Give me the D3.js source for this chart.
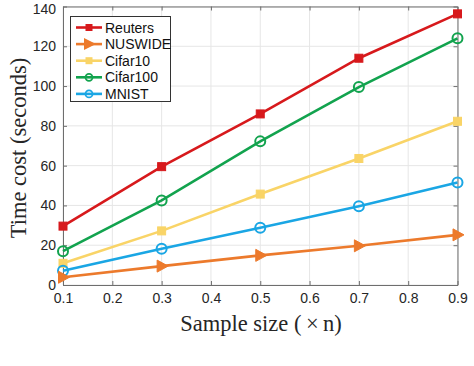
<!DOCTYPE html>
<html><head><meta charset="utf-8">
<script src="https://cdn.jsdelivr.net/npm/d3@7"></script>
<style>body{margin:0;background:#fff}svg{display:block}</style>
</head><body>
<svg id="c" width="474" height="366"></svg>
<script>
const xs = [0.1, 0.3, 0.5, 0.7, 0.9];
const reuters = [29.6, 59.5, 86, 114, 136.3];
const nuswide = [3.9, 9.5, 14.9, 19.7, 25.2];
const cifar10 = [10.9, 27.2, 45.7, 63.6, 82.3];
const cifar100 = [17, 42.5, 72.2, 99.5, 124];
const mnist = [7.2, 18.2, 28.8, 39.6, 51.5];
const xTicks = [0.1,0.2,0.3,0.4,0.5,0.6,0.7,0.8,0.9];
const yTicks = [0,20,40,60,80,100,120,140];

const series = [
  {name:"Reuters", v:reuters, color:"#d7191c", marker:"square"},
  {name:"NUSWIDE", v:nuswide, color:"#ec7a2c", marker:"tri"},
  {name:"Cifar10", v:cifar10, color:"#f9d467", marker:"square"},
  {name:"Cifar100", v:cifar100, color:"#12a34e", marker:"circle"},
  {name:"MNIST", v:mnist, color:"#1aa6e4", marker:"circle"}
];

const L=63, R=457.5, T=6.5, B=285;
const svg = d3.select("#c");
const x = d3.scaleLinear().domain([0.1,0.9]).range([L,R]);
const y = d3.scaleLinear().domain([0,140]).range([B,T]);

// grid
const g = svg.append("g");
g.selectAll("line.gx").data(xTicks).enter().append("line")
  .attr("x1",d=>x(d)).attr("x2",d=>x(d)).attr("y1",T).attr("y2",B)
  .attr("stroke","#e6e6e6").attr("stroke-width",1);
g.selectAll("line.gy").data(yTicks).enter().append("line")
  .attr("x1",L).attr("x2",R).attr("y1",d=>y(d)).attr("y2",d=>y(d))
  .attr("stroke","#e6e6e6").attr("stroke-width",1);

// axes
const axCol = "#6e6e6e";
const xb = svg.append("g").attr("transform",`translate(0,${B})`)
  .call(d3.axisBottom(x).tickValues(xTicks).tickFormat(d3.format(".1f")).tickSizeInner(-4).tickSizeOuter(0).tickPadding(8));
const xt = svg.append("g").attr("transform",`translate(0,${T})`)
  .call(d3.axisTop(x).tickValues(xTicks).tickFormat("").tickSizeInner(-4).tickSizeOuter(0));
const yl = svg.append("g").attr("transform",`translate(${L},0)`)
  .call(d3.axisLeft(y).tickValues(yTicks).tickSizeInner(-4).tickSizeOuter(0).tickPadding(7));
const yr = svg.append("g").attr("transform",`translate(${R},0)`)
  .call(d3.axisRight(y).tickValues(yTicks).tickFormat("").tickSizeInner(-4).tickSizeOuter(0));
[xb,xt,yl,yr].forEach(a=>{
  a.select(".domain").attr("stroke",axCol).attr("stroke-width",1);
  a.selectAll(".tick line").attr("stroke",axCol);
  a.selectAll("text").attr("fill","#262626").style("font-family","Liberation Sans, Arial, sans-serif").style("font-size","14px");
});
yl.selectAll(".tick text").filter(d=>d===140).attr("dy","0.5em");

// lines
const line = d3.line().x((d,i)=>x(xs[i])).y(d=>y(d));
function drawMarker(sel, s, cx, cy){
  if(s.marker==="square"){
    sel.append("rect").attr("x",cx-4).attr("y",cy-4).attr("width",8).attr("height",8)
      .attr("fill",s.color).attr("stroke",s.color).attr("stroke-width",1);
  } else if(s.marker==="tri"){
    sel.append("path").attr("d",`M${cx-4.5},${cy-6}L${cx+6.5},${cy}L${cx-4.5},${cy+6}Z`)
      .attr("fill",s.color).attr("stroke",s.color).attr("stroke-width",1);
  } else {
    sel.append("circle").attr("cx",cx).attr("cy",cy).attr("r",5)
      .attr("fill","none").attr("stroke",s.color).attr("stroke-width",2);
  }
}
const order = [2,4,1,3,0];
order.forEach(k=>{
  const s = series[k];
  const gg = svg.append("g");
  gg.append("path").datum(s.v).attr("d",line).attr("fill","none")
    .attr("stroke",s.color).attr("stroke-width",2.6);
  s.v.forEach((v,i)=>drawMarker(gg,s,x(xs[i]),y(v)));
});

// legend
const lg = svg.append("g");
lg.append("rect").attr("x",70.5).attr("y",16.5).attr("width",100).attr("height",85)
  .attr("fill","#fff").attr("stroke","#333").attr("stroke-width",1);
series.forEach((s,i)=>{
  const cy = 27.5 + i*16.6;
  lg.append("line").attr("x1",76).attr("x2",102).attr("y1",cy).attr("y2",cy)
    .attr("stroke",s.color).attr("stroke-width",2.6);
  const m = lg.append("g");
  if(s.marker==="circle"){
    m.append("circle").attr("cx",89).attr("cy",cy).attr("r",3.5).attr("fill","none").attr("stroke",s.color).attr("stroke-width",1.8);
  } else if(s.marker==="square"){
    m.append("rect").attr("x",85.5).attr("y",cy-3.5).attr("width",7).attr("height",7).attr("fill",s.color);
  } else {
    m.append("path").attr("d",`M${84},${cy-6}L${96},${cy}L${84},${cy+6}Z`).attr("fill",s.color);
  }
  lg.append("text").attr("x",105).attr("y",cy+5).text(s.name)
    .attr("fill","#111").style("font-family","Liberation Sans, Arial, sans-serif").style("font-size","14px");
});

// axis titles
svg.append("text").attr("x",261).attr("y",331).attr("text-anchor","middle")
  .style("font-family","Liberation Serif, Times New Roman, serif").style("font-size","22.5px").attr("fill","#262626")
  .text("Sample size (\u2009\u00d7\u2009n)");
svg.append("text").attr("transform",`translate(26,148) rotate(-90)`).attr("text-anchor","middle")
  .style("font-family","Liberation Serif, Times New Roman, serif").style("font-size","22.5px").attr("fill","#262626")
  .text("Time cost (seconds)");
</script>
</body></html>
